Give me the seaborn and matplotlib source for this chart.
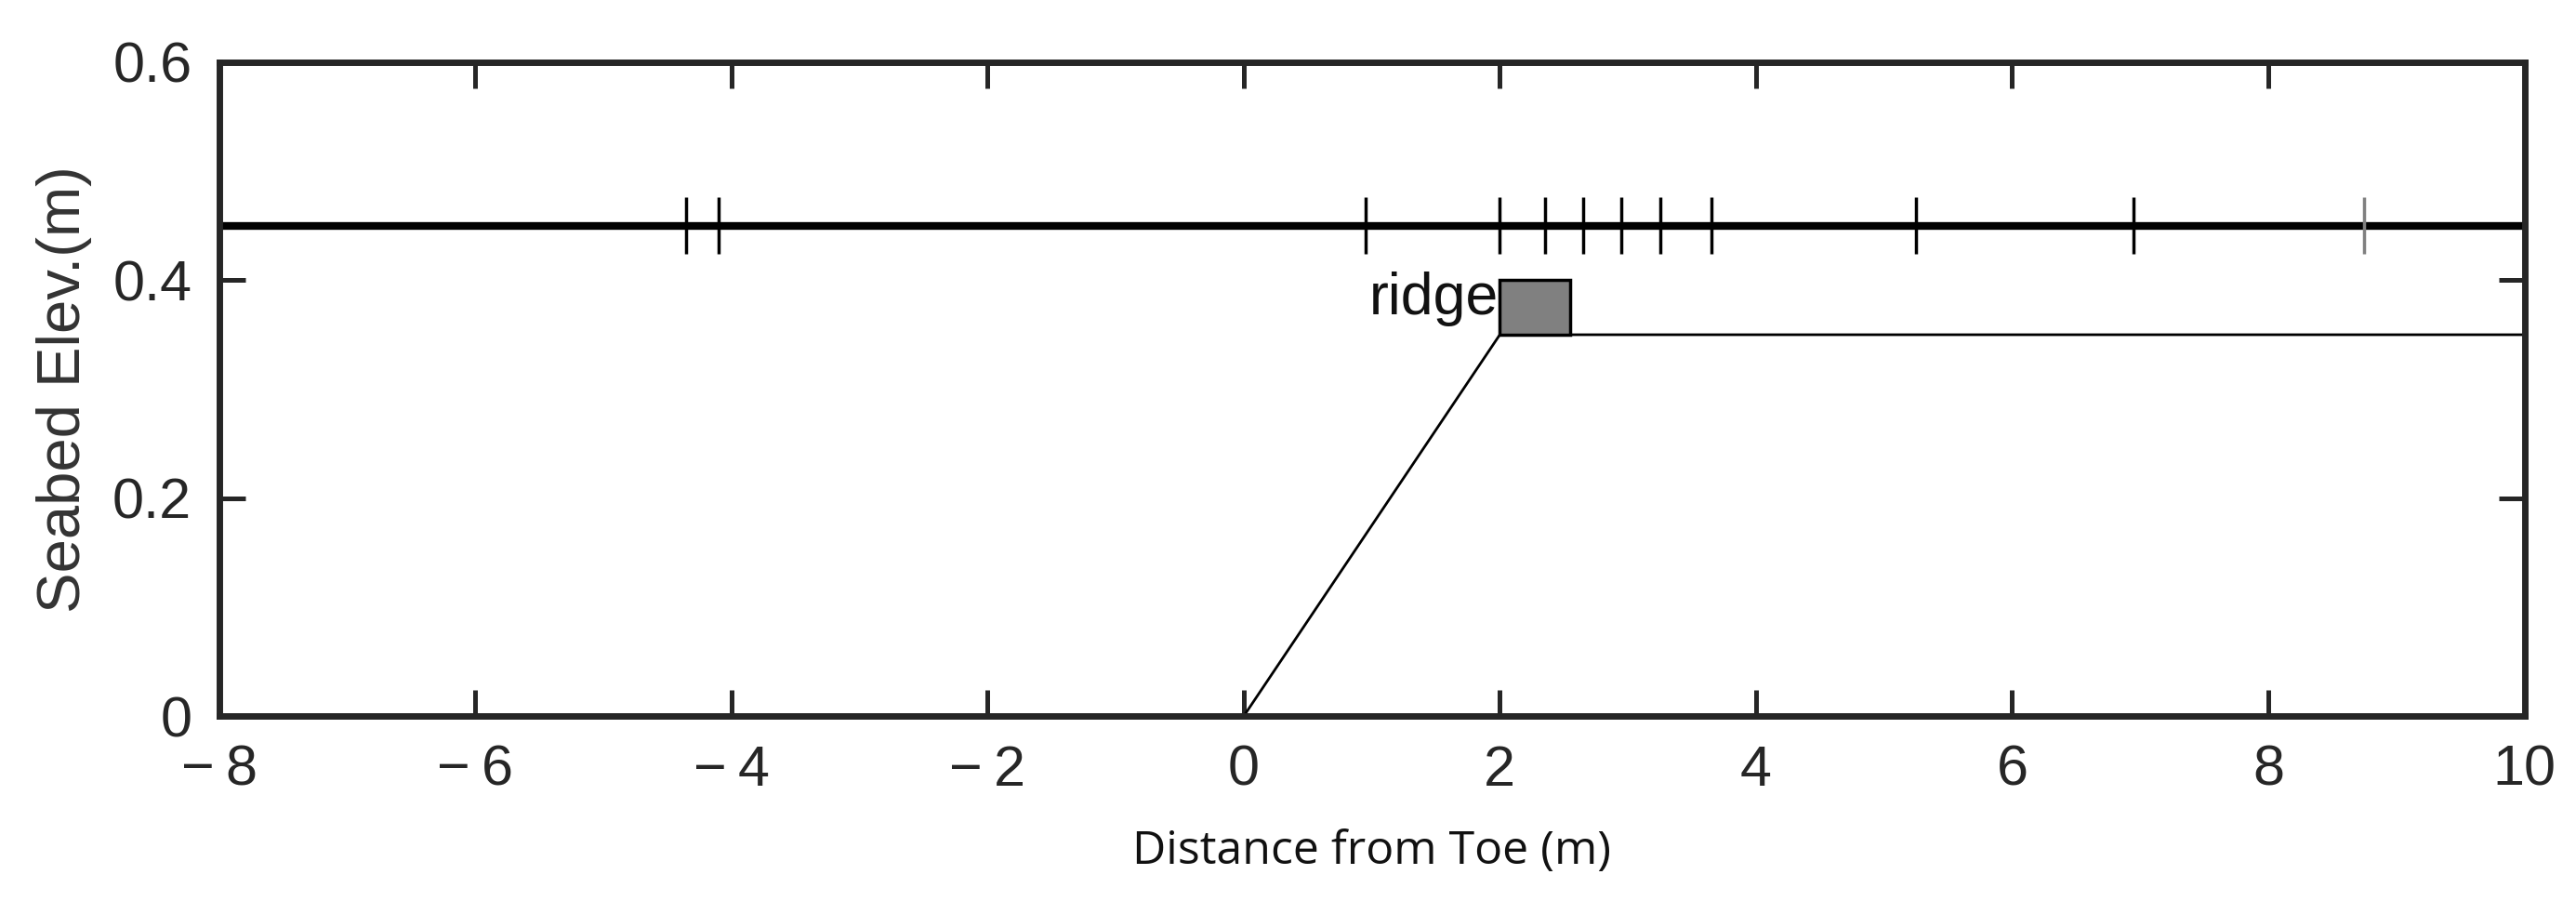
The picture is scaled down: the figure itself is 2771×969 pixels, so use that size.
import numpy as np
import pandas as pd
import seaborn as sns
import matplotlib.pyplot as plt
from matplotlib.patches import Rectangle

# seabed profile
bed_x = [-8, 0, 2, 10]
bed_y = [0, 0, 0.35, 0.35]

# still water level
swl_x = [-8, 10]
swl_y = [0.45, 0.45]

# gauge positions along the flume
gauge_x = [-4.35, -4.1, 0.95, 2.0, 2.35, 2.65, 2.95, 3.25, 3.65, 5.25, 6.95, 8.75]

# ridge block
ridge_x = [2.0, 2.55]
ridge_y = [0.35, 0.40]

xticks = list(range(-8, 11, 2))
yticks = [0, 0.2, 0.4, 0.6]
ytick_labels = ['0', '0.2', '0.4', '0.6']

sns.set_style("white")
plt.rcParams['font.family'] = ['Liberation Sans', 'DejaVu Sans']

fig, ax = plt.subplots(figsize=(27.71, 9.69), dpi=100)
fig.subplots_adjust(left=0.085, right=0.98, top=0.931, bottom=0.205)

bed = pd.DataFrame({'x': bed_x, 'y': bed_y})
sns.lineplot(data=bed, x='x', y='y', color='black', lw=2, sort=False, ax=ax)

swl = pd.DataFrame({'x': swl_x, 'y': swl_y})
sns.lineplot(data=swl, x='x', y='y', color='black', lw=6, ax=ax)

cols = ['black'] * (len(gauge_x) - 1) + ['#808080']
ax.vlines(gauge_x, 0.45 - 0.026, 0.45 + 0.026, colors=cols, lw=2.5)

ax.add_patch(Rectangle((ridge_x[0], ridge_y[0]), ridge_x[1] - ridge_x[0],
                       ridge_y[1] - ridge_y[0], facecolor='#808080',
                       edgecolor='black', lw=2.5, zorder=3))
ax.text(ridge_x[0] - 0.01, 0.369, 'ridge', ha='right', va='baseline', fontsize=45,
        color='#111111')

ax.set_xlim(-8, 10)
ax.set_ylim(0, 0.6)
ax.set_xticks(xticks)
ax.set_yticks(yticks)
ax.set_xticklabels([str(v).replace('-', '\u2212\u2009') for v in xticks])
ax.set_yticklabels(ytick_labels)
ax.tick_params(direction='in', length=20, width=3.6, labelsize=44,
               bottom=True, left=True, top=True, right=True, colors='#262626')
ax.tick_params(axis='x', pad=22)
ax.tick_params(axis='y', pad=21)
for s in ax.spines.values():
    s.set_linewidth(5)
    s.set_color('#262626')

ax.set_xlabel('Distance from Toe (m)', fontsize=36, family=['Open Sans', 'DejaVu Sans'],
              labelpad=24, color='#111111')
ax.set_ylabel('Seabed Elev.(m)', fontsize=47, labelpad=16, color='#333333')

fig.savefig('out.png', dpi=100)
